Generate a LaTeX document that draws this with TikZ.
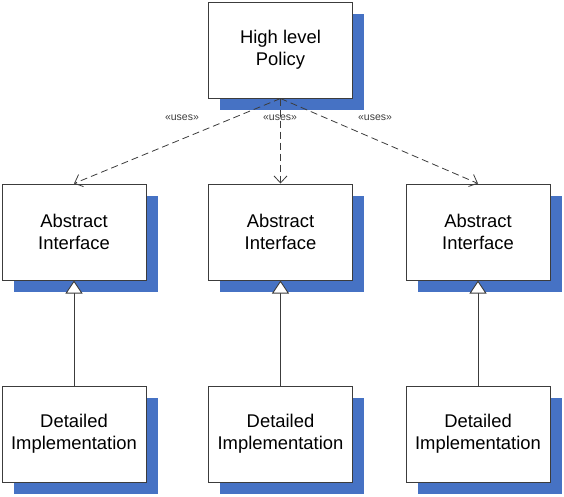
\documentclass[tikz,border=0pt]{standalone}
\usepackage{fontspec}
\setmainfont{Liberation Sans}
\usetikzlibrary{arrows.meta}
\definecolor{shadowblue}{RGB}{70,114,196}
\definecolor{edge}{RGB}{60,60,60}
\begin{document}
\begin{tikzpicture}[x=1pt,y=-1pt,
  box/.style={draw=edge,line width=1pt,fill=white,minimum width=144pt,minimum height=96pt,
    inner sep=0pt,align=center,font=\fontsize{18.4}{22}\selectfont},
  shade/.style={fill=shadowblue},
  uses/.style={draw=edge,line width=0.8pt,dash pattern=on 7pt off 4pt,
    -{Straight Barb[length=7pt,width=13pt,line width=0.8pt]}},
  inherit/.style={draw=edge,line width=1pt,-{Triangle[open,fill=white,length=13pt,width=17pt,line width=0.9pt]}},
  lbl/.style={font=\fontsize{10.5}{12}\selectfont,text=edge,inner sep=1pt}]
\useasboundingbox (0,0) rectangle (564,496);
% shadows
\foreach \x/\y in {220/14,14/196,220/196,418/196,14/398,220/398,418/398}
  \fill[shade] (\x,\y) rectangle ++(144,96);
% boxes
\node[box] (hl) at (280.5,50) {High level\\Policy};
\node[box] (a1) at (74,232) {Abstract\\Interface};
\node[box] (a2) at (280.5,232) {Abstract\\Interface};
\node[box] (a3) at (478,232) {Abstract\\Interface};
\node[box] (d1) at (74,434) {Detailed\\Implementation};
\node[box] (d2) at (280.5,434) {Detailed\\Implementation};
\node[box] (d3) at (478,434) {Detailed\\Implementation};
% uses
\draw[uses] (hl.south) -- (a1.north);
\draw[uses] (hl.south) -- (a2.north);
\draw[uses] (hl.south) -- (a3.north);
\node[lbl] (u1) at (182,118) {«uses»};
\node[lbl] (u2) at (280,118) {«uses»};
\node[lbl] (u3) at (375,118) {«uses»};
% inheritance
\draw[inherit] (d1.north) -- (a1.south);
\draw[inherit] (d2.north) -- (a2.south);
\draw[inherit] (d3.north) -- (a3.south);
\end{tikzpicture}
\end{document}
